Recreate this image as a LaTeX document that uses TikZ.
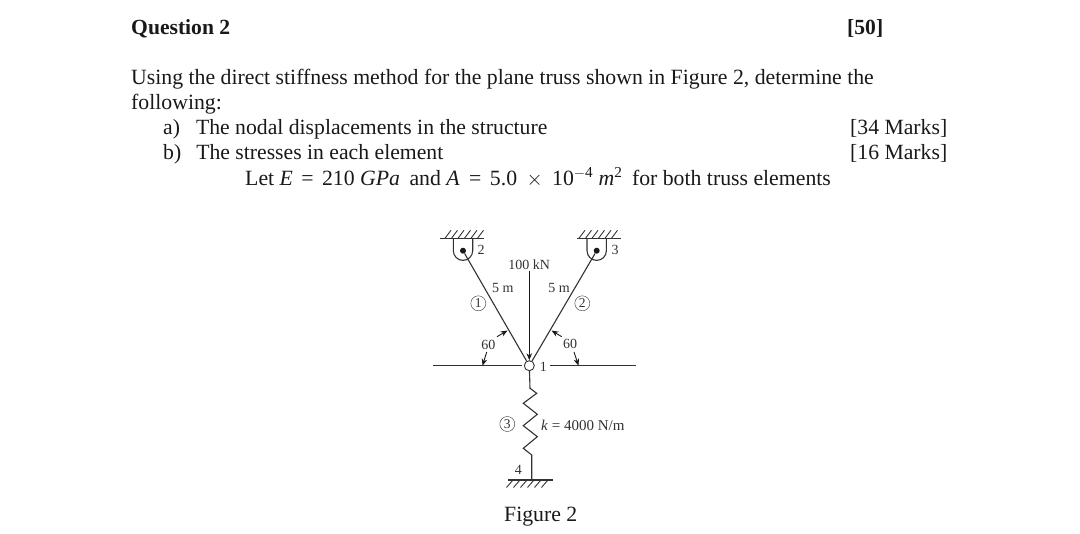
\documentclass[tikz,border=0pt]{standalone}
\usepackage{fontspec}
\setmainfont{Liberation Serif}
\usepackage{tikz}
\usetikzlibrary{arrows.meta,positioning}
\definecolor{dfink}{RGB}{25,25,25}
\definecolor{dfline}{RGB}{50,50,50}
\tikzstyle{body} = [anchor=base west, inner sep=0pt, text=dfink, font=\fontsize{21.77}{24}\selectfont]
\tikzstyle{narrowbody} = [anchor=base west, inner sep=0pt, text=dfink, font=\fontsize{21.7}{24}\selectfont]
\tikzstyle{heading} = [anchor=base west, inner sep=0pt, text=dfink, font=\fontsize{21.6}{24}\selectfont\bfseries]
\tikzstyle{tag} = [inner sep=0pt, text=dfline, font=\fontsize{14}{16}\selectfont]
\tikzstyle{member} = [circle, draw=dfline, inner sep=0pt, minimum size=15pt, text=dfline, font=\fontsize{13.5}{16}\selectfont]
\tikzstyle{pin} = [circle, fill=dfink, inner sep=0pt, minimum size=6pt]
\tikzstyle{joint} = [circle, draw=dfline, line width=0.9pt, fill=white, inner sep=0pt, minimum size=10pt]
\tikzstyle{bar} = [draw=dfline, line width=1.1pt]
\tikzstyle{thin} = [draw=dfline, line width=0.9pt]
\tikzstyle{arrow} = [line width=0.9pt,-{Stealth[length=7pt,width=5.5pt]},color=dfink]

\begin{document}
\begin{tikzpicture}[x=1pt, y=-1pt]
\useasboundingbox (0,0) rectangle (1080,534);
% text
\node (question) [heading] at (131,34.5) {Question 2};
\node (marks) [heading] at (847,34.5) {[50]};
\node (intro) [body] at (131,84.5) {Using the direct stiffness method for the plane truss shown in Figure 2, determine the};
\node (following) [body] at (131,109.5) {following:};
\node (parta) [narrowbody] at (163,134.5) {a)\hspace{16pt}The nodal displacements in the structure};
\node (partb) [narrowbody] at (163,160) {b)\hspace{15pt}The stresses in each element};
\node (marksa) [narrowbody] at (850,134.5) {[34 Marks]};
\node (marksb) [narrowbody] at (850,160) {[16 Marks]};
\node (given) [body] at (245,185.5) {Let \textit{E}\hspace{3pt} = \hspace{3pt}210 \textit{GPa}\hspace{4pt} and \textit{A}\hspace{4pt} = \hspace{3pt}5.0 \hspace{4pt}$\times$\hspace{4pt} 10\textsuperscript{$-$4} \textit{m}\textsuperscript{2}\hspace{4pt} for both truss elements};
\node (caption) [body] at (504,521.5) {Figure 2};
% truss
\node (one) [joint] at (529.3,365.7) {};
\node (two) [pin] at (463,250.7) {};
\node (three) [pin] at (596.7,250.7) {};
\coordinate (forcetop) at (529.3,271.5);
\draw [bar] (two) -- (one);
\draw [bar] (three) -- (one);
\draw [arrow] (forcetop) -- (one);
% supports
\draw [bar] (453.3,238.3) -- (453.3,250.7) arc[start angle=180, end angle=360, radius=9.7pt] -- (472.7,238.3);
\draw [bar] (587,238.3) -- (587,250.7) arc[start angle=180, end angle=360, radius=9.7pt] -- (606.4,238.3);
\draw [bar] (440,238.3) -- (484,238.3);
\draw [bar] (577,238.3) -- (621,238.3);
\foreach \hx in {445,451.5,458,464.5,471,477.5}
  \draw [thin] (\hx,238.3) -- ++(6,-8);
\foreach \hx in {579,585.5,592,598.5,605,611.5}
  \draw [thin] (\hx,238.3) -- ++(6,-8);
% reference lines
\coordinate (leftend) at (433,365.7);
\coordinate (leftstop) at (522,365.7);
\coordinate (rightstart) at (550,365.7);
\coordinate (rightend) at (636,365.7);
\draw [thin] (leftend) -- (leftstop);
\draw [thin] (rightstart) -- (rightend);
% angles
\node (angleleft) [tag] at (488.3,345) {60};
\node (angleright) [tag] at (570,344) {60};
\coordinate (barleft) at (507.5,330.5);
\coordinate (barright) at (551.5,330.5);
\coordinate (baseleft) at (482.5,365.7);
\coordinate (baseright) at (578.5,365.7);
\draw [arrow] (497,336.7) -- (barleft);
\draw [arrow] (561.7,336.7) -- (barright);
\draw [arrow] (486.7,352) -- (baseleft);
\draw [arrow] (574,352) -- (baseright);
% spring
\coordinate (four) at (531.7,480);
\draw [bar] (one) -- (530,388.3) -- (536.7,393.3) -- (523.3,403.3) -- (537.3,414.3) -- (523.3,425.7) -- (537.3,436.7) -- (523.3,448.3) -- (531.7,455) -- (four);
\draw [bar] (508.3,480) -- (552.7,480);
\foreach \hx in {513,520,527,534,541,548}
  \draw [thin] (\hx,480) -- ++(-6.5,7.5);
% labels
\node (labeltwo) [tag] at (481,250) {2};
\node (labelthree) [tag] at (615,249.5) {3};
\node (labelone) [tag] at (543.3,366.7) {1};
\node (labelfour) [tag] at (518.3,470) {4};
\node (force) [tag, fill=white, inner ysep=1pt] at (529.3,264.5) {100 kN};
\node (lengthleft) [tag] at (502.7,287.7) {5 m};
\node (lengthright) [tag] at (559,287.7) {5 m};
\node (stiffness) [tag, anchor=west, font=\fontsize{15}{16}\selectfont] at (541,425) {\textit{k} = 4000 N/m};
\node (memberone) [member] at (478.3,303.3) {1};
\node (membertwo) [member] at (582.3,303.3) {2};
\node (memberthree) [member] at (507.3,424) {3};
\end{tikzpicture}
\end{document}
